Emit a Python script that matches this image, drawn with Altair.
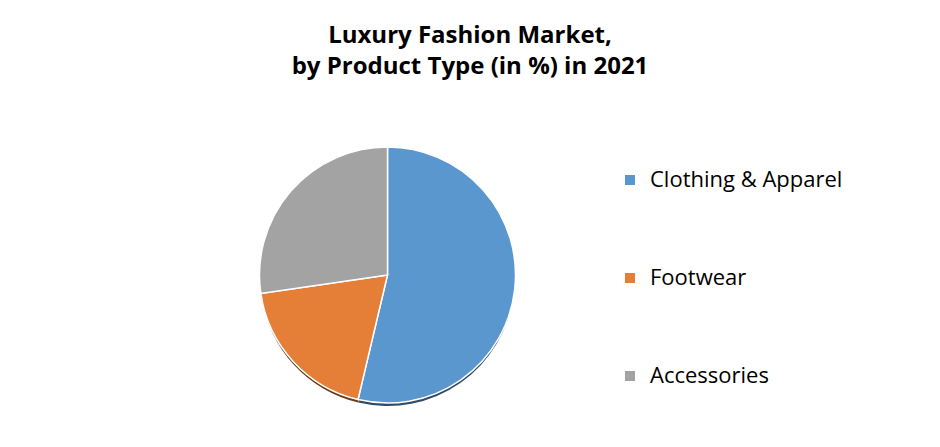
import altair as alt
import pandas as pd

categories = ["Clothing & Apparel", "Footwear", "Accessories"]
shares = [53.7, 19.0, 27.3]
colors = ["#5A97CF", "#E57E37", "#A3A3A3"]
shadow_colors = ["#2F4B66", "#6B3A18", "#555555"]

df = pd.DataFrame({"Product": categories, "Share": shares, "idx": list(range(len(categories)))})

FONT = "Open Sans"

shadow = alt.Chart(df).mark_arc(outerRadius=127, stroke=None).encode(
    theta=alt.Theta("Share:Q", stack=True),
    order=alt.Order("idx:Q"),
    color=alt.Color("Product:N", scale=alt.Scale(domain=categories, range=shadow_colors), legend=None),
    x=alt.value(379.5), y=alt.value(171),
)

pie = alt.Chart(df).mark_arc(outerRadius=128, stroke="white", strokeWidth=1.5).encode(
    theta=alt.Theta("Share:Q", stack=True),
    order=alt.Order("idx:Q"),
    color=alt.Color(
        "Product:N",
        scale=alt.Scale(domain=categories, range=colors),
        legend=alt.Legend(
            title=None, orient="none", legendX=611, legendY=61,
            symbolType="square", symbolSize=100, symbolStrokeWidth=0,
            labelFont=FONT, labelFontSize=22, labelColor="#000000",
            labelOffset=9, rowPadding=76, padding=0, labelLimit=400,
        ),
    ),
    x=alt.value(379.5), y=alt.value(167),
)

chart = alt.layer(shadow, pie).resolve_scale(color="independent").properties(
    width=924, height=331,
    padding={"top": 100, "left": 0, "right": 0, "bottom": 0},
    autosize=alt.AutoSizeParams(type="none"),
    title=alt.TitleParams(
        text=["Luxury Fashion Market,", "by Product Type (in %) in 2021"],
        font=FONT, fontSize=24, fontWeight="bold", color="#000000",
        anchor="middle", lineHeight=31, offset=29,
    ),
).configure_view(stroke=None)

chart.save("out.html", embed_options={"renderer": "svg", "actions": False})
